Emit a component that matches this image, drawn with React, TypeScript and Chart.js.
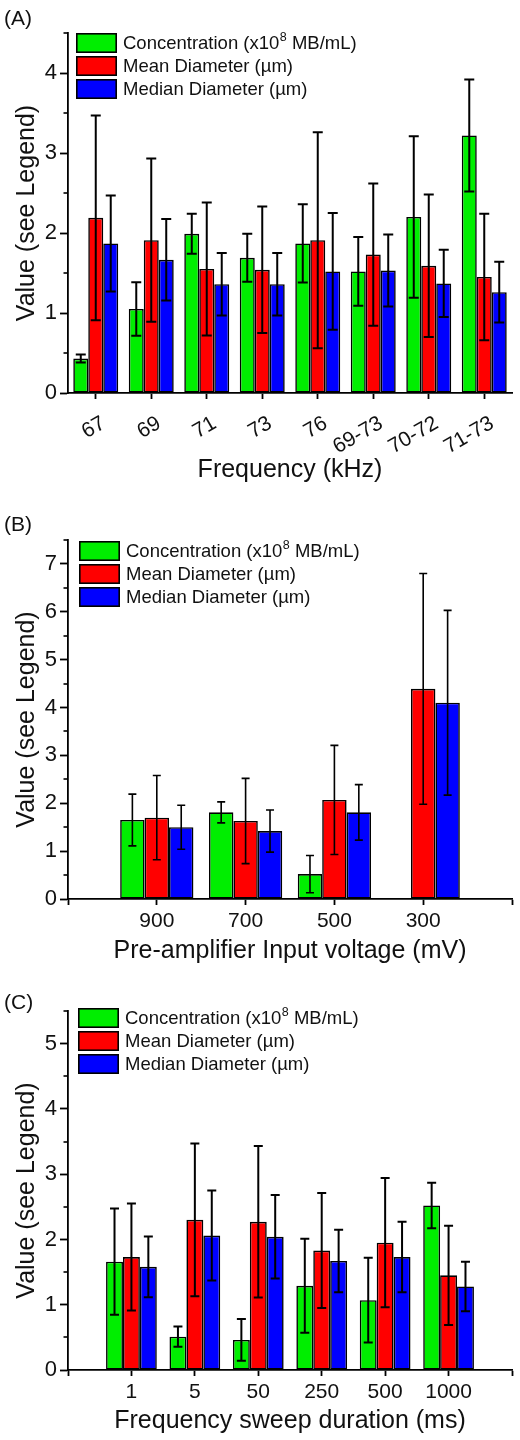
import { useEffect, useRef } from 'react';
import { Chart, registerables } from 'chart.js';

Chart.register(...registerables);

const FONT = '"Liberation Sans", Arial, Helvetica, sans-serif';
const INK = '#111111';
Chart.defaults.font.family = FONT;
Chart.defaults.color = INK;

// Series shared by all three panels
const seriesNames = ['Concentration (x10⁸ MB/mL)', 'Mean Diameter (µm)', 'Median Diameter (µm)'];
const seriesColors = ['#00ee00', '#ff0000', '#0000ff'];

// (A) Frequency (kHz)
const frequencyLabels = ['67', '69', '71', '73', '76', '69-73', '70-72', '71-73'];
const frequencyConc = [0.43, 1.05, 1.99, 1.69, 1.87, 1.52, 2.2, 3.22];
const frequencyConcErr = [0.05, 0.335, 0.25, 0.3, 0.49, 0.43, 1.01, 0.7];
const frequencyMean = [2.19, 1.91, 1.55, 1.54, 1.91, 1.73, 1.59, 1.45];
const frequencyMeanErr = [1.28, 1.02, 0.83, 0.79, 1.35, 0.89, 0.89, 0.79];
const frequencyMedian = [1.87, 1.665, 1.36, 1.36, 1.52, 1.53, 1.37, 1.26];
const frequencyMedianErr = [0.6, 0.51, 0.39, 0.39, 0.73, 0.45, 0.42, 0.38];

// (B) Pre-amplifier input voltage (mV)
const voltageLabels = ['900', '700', '500', '300'];
const voltageConc = [1.65, 1.81, 0.52, 0];
const voltageConcErr = [0.54, 0.22, 0.39, 0];
const voltageMean = [1.7, 1.63, 2.07, 4.39];
const voltageMeanErr = [0.88, 0.89, 1.14, 2.41];
const voltageMedian = [1.5, 1.42, 1.81, 4.1];
const voltageMedianErr = [0.46, 0.44, 0.58, 1.93];

// (C) Frequency sweep duration (ms)
const sweepLabels = ['1', '5', '50', '250', '500', '1000'];
const sweepConc = [1.66, 0.51, 0.46, 1.29, 1.07, 2.52];
const sweepConcErr = [0.815, 0.155, 0.32, 0.72, 0.65, 0.35];
const sweepMean = [1.73, 2.3, 2.27, 1.83, 1.95, 1.45];
const sweepMeanErr = [0.82, 1.17, 1.16, 0.88, 0.99, 0.76];
const sweepMedian = [1.58, 2.06, 2.04, 1.67, 1.73, 1.28];
const sweepMedianErr = [0.465, 0.69, 0.64, 0.48, 0.54, 0.38];

type Panel = {
  tag: string;
  tagY: number;
  labels: string[];
  padEnds: boolean;
  values: number[][];
  errors: number[][];
  yMax: number;
  xTitle: string;
  canvasHeight: number;
  areaTop: number;
  areaBottom: number;
  xAxisHeight: number;
  categoryPercentage: number;
  rotation: number;
  xTickSize: number;
  errWidth: number;
  capHalf: number;
  legendDx: number;
  legendDy: number;
};

const panels: Panel[] = [
  {
    tag: '(A)', tagY: 19,
    labels: frequencyLabels, padEnds: false,
    values: [frequencyConc, frequencyMean, frequencyMedian],
    errors: [frequencyConcErr, frequencyMeanErr, frequencyMedianErr],
    yMax: 4.5, xTitle: 'Frequency (kHz)',
    canvasHeight: 490, areaTop: 33, areaBottom: 393, xAxisHeight: 92,
    categoryPercentage: 0.81, rotation: 30, xTickSize: 21,
    errWidth: 2, capHalf: 5, legendDx: 8, legendDy: 0,
  },
  {
    tag: '(B)', tagY: 35,
    labels: voltageLabels, padEnds: true,
    values: [voltageConc, voltageMean, voltageMedian],
    errors: [voltageConcErr, voltageMeanErr, voltageMedianErr],
    yMax: 7.5, xTitle: 'Pre-amplifier Input voltage (mV)',
    canvasHeight: 480, areaTop: 50, areaBottom: 409, xAxisHeight: 67,
    categoryPercentage: 0.825, rotation: 0, xTickSize: 21,
    errWidth: 1.6, capHalf: 4, legendDx: 11, legendDy: 1,
  },
  {
    tag: '(C)', tagY: 33,
    labels: sweepLabels, padEnds: true,
    values: [sweepConc, sweepMean, sweepMedian],
    errors: [sweepConcErr, sweepMeanErr, sweepMedianErr],
    yMax: 5.5, xTitle: 'Frequency sweep duration (ms)',
    canvasHeight: 470, areaTop: 41, areaBottom: 400, xAxisHeight: 66,
    categoryPercentage: 0.8, rotation: 0, xTickSize: 21,
    errWidth: 2, capHalf: 4.5, legendDx: 10, legendDy: -3,
  },
];

const SUPERSCRIPTS: Record<string, string> = { '⁰': '0', '¹': '1', '²': '2', '³': '3', '⁴': '4', '⁵': '5', '⁶': '6', '⁷': '7', '⁸': '8', '⁹': '9' };

// Draws a legend label, setting superscript digits small and raised
function drawLegendText(ctx: CanvasRenderingContext2D, text: string, x: number, y: number) {
  const normal = `18.5px ${FONT}`;
  const small = `12.5px ${FONT}`;
  let cx = x;
  let buf = '';
  const flush = () => {
    if (!buf) return;
    ctx.font = normal;
    ctx.fillText(buf, cx, y);
    cx += ctx.measureText(buf).width;
    buf = '';
  };
  for (const ch of text) {
    if (SUPERSCRIPTS[ch]) {
      flush();
      ctx.font = small;
      ctx.fillText(SUPERSCRIPTS[ch], cx + 0.5, y - 6);
      cx += ctx.measureText(SUPERSCRIPTS[ch]).width + 0.5;
    } else {
      buf += ch;
    }
  }
  flush();
}

const decorPlugin = {
  id: 'decor',
  afterDatasetsDraw(chart: any, _args: any, opts: any) {
    const ctx: CanvasRenderingContext2D = chart.ctx;
    const yScale = chart.scales.y;
    ctx.save();
    ctx.strokeStyle = '#000';
    ctx.lineWidth = opts.errWidth;
    ctx.lineCap = 'butt';
    chart.data.datasets.forEach((ds: any, i: number) => {
      const meta = chart.getDatasetMeta(i);
      meta.data.forEach((el: any, j: number) => {
        const v = ds.data[j];
        const e = ds.errors[j];
        if (v == null || !e) return;
        const x = el.x;
        const yt = yScale.getPixelForValue(v + e);
        const yb = yScale.getPixelForValue(v - e);
        ctx.beginPath();
        ctx.moveTo(x, yt);
        ctx.lineTo(x, yb);
        ctx.moveTo(x - opts.capHalf, yt);
        ctx.lineTo(x + opts.capHalf, yt);
        ctx.moveTo(x - opts.capHalf, yb);
        ctx.lineTo(x + opts.capHalf, yb);
        ctx.stroke();
      });
    });
    ctx.restore();
  },
  afterDraw(chart: any, _args: any, opts: any) {
    const ctx: CanvasRenderingContext2D = chart.ctx;
    const area = chart.chartArea;
    const yScale = chart.scales.y;
    ctx.save();

    // minor ticks on the value axis
    ctx.strokeStyle = '#000';
    ctx.lineWidth = 1.6;
    yScale.ticks.forEach((t: any) => {
      if (Number.isInteger(t.value)) return;
      const py = Math.round(yScale.getPixelForValue(t.value));
      ctx.beginPath();
      ctx.moveTo(area.left - 4.5, py);
      ctx.lineTo(area.left, py);
      ctx.stroke();
    });

    // legend, top-left inside the plot area
    const bx = area.left + opts.legendDx;
    const by0 = area.top + opts.legendDy;
    ctx.textBaseline = 'middle';
    ctx.textAlign = 'left';
    chart.data.datasets.forEach((ds: any, i: number) => {
      const by = by0 + i * 23;
      ctx.fillStyle = ds.backgroundColor;
      ctx.fillRect(bx, by, 41, 20);
      ctx.strokeStyle = '#000';
      ctx.lineWidth = 1.6;
      ctx.strokeRect(bx + 0.8, by + 0.8, 39.4, 18.4);
      ctx.fillStyle = INK;
      drawLegendText(ctx, ds.label, bx + 47, by + 11);
    });

    // panel tag
    ctx.font = `21px ${FONT}`;
    ctx.fillStyle = INK;
    ctx.textBaseline = 'middle';
    ctx.fillText(opts.tag, 4, opts.tagY);
    ctx.restore();
  },
};

function buildConfig(p: Panel): any {
  const labels = p.padEnds ? ['', ...p.labels, ''] : p.labels;
  const pad = (arr: number[]) => (p.padEnds ? [null, ...arr, null] : arr);
  const yTicks = Array.from({ length: Math.round(p.yMax * 2) + 1 }, (_, i) => i / 2);
  return {
    type: 'bar',
    data: {
      labels,
      datasets: seriesNames.map((name, i) => ({
        label: name,
        data: pad(p.values[i]),
        errors: pad(p.errors[i]),
        backgroundColor: seriesColors[i],
        borderColor: '#000',
        borderWidth: 1.6,
        borderSkipped: false,
        categoryPercentage: p.categoryPercentage,
        barPercentage: 1,
      })),
    },
    options: {
      animation: false,
      responsive: false,
      maintainAspectRatio: false,
      events: [],
      layout: {
        padding: {
          top: p.areaTop,
          left: 0,
          right: 8,
          bottom: p.canvasHeight - p.areaBottom - p.xAxisHeight,
        },
      },
      plugins: {
        legend: { display: false },
        tooltip: { enabled: false },
        decor: {
          tag: p.tag,
          tagY: p.tagY,
          errWidth: p.errWidth,
          capHalf: p.capHalf,
          legendDx: p.legendDx,
          legendDy: p.legendDy,
        },
      },
      scales: {
        x: {
          type: 'category',
          offset: !p.padEnds,
          grid: { drawOnChartArea: false, offset: false, tickLength: 6, tickColor: '#000', tickWidth: 1.8 },
          border: { display: true, color: '#000', width: 1.8 },
          ticks: {
            autoSkip: false,
            minRotation: p.rotation,
            maxRotation: p.rotation,
            font: { size: p.xTickSize },
            color: INK,
            padding: p.rotation ? 12 : 4,
            labelOffset: p.rotation ? 8 : 0,
          },
          title: {
            display: true,
            text: p.xTitle,
            font: { size: 25 },
            color: INK,
            padding: { top: 0, bottom: 0 },
          },
          afterFit: (s: any) => {
            s.height = p.xAxisHeight;
          },
        },
        y: {
          type: 'linear',
          min: 0,
          max: p.yMax,
          afterBuildTicks: (s: any) => {
            s.ticks = yTicks.map((v) => ({ value: v }));
          },
          ticks: {
            autoSkip: false,
            font: { size: 22 },
            color: INK,
            padding: 3,
            callback: (v: any) => (Number.isInteger(v) ? String(v) : ''),
          },
          grid: {
            drawOnChartArea: false,
            tickLength: 8,
            tickWidth: 1.8,
            tickColor: (c: any) => (c.tick && Number.isInteger(c.tick.value) ? '#000' : 'rgba(0,0,0,0)'),
          },
          border: { display: true, color: '#000', width: 1.8 },
          title: {
            display: true,
            text: 'Value (see Legend)',
            font: { size: 25 },
            color: INK,
            padding: { top: 12, bottom: 0 },
          },
          afterFit: (s: any) => {
            s.width = 68;
          },
        },
      },
    },
    plugins: [decorPlugin],
  };
}

function PanelChart({ panel, top }: { panel: Panel; top: number }) {
  const ref = useRef<HTMLCanvasElement | null>(null);
  useEffect(() => {
    if (!ref.current) return;
    const chart = new Chart(ref.current, buildConfig(panel));
    return () => chart.destroy();
  }, [panel]);
  return (
    <canvas
      ref={ref}
      width={520}
      height={panel.canvasHeight}
      style={{ position: 'absolute', left: 0, top, width: 520, height: panel.canvasHeight, display: 'block' }}
    />
  );
}

export default function App() {
  let offset = 0;
  const tops = panels.map((p) => {
    const t = offset;
    offset += p.canvasHeight;
    return t;
  });
  return (
    <div style={{ position: 'absolute', left: 0, top: 0, width: 520, height: 1440, background: '#fff' }}>
      {panels.map((p, i) => (
        <PanelChart key={p.tag} panel={p} top={tops[i]} />
      ))}
    </div>
  );
}
